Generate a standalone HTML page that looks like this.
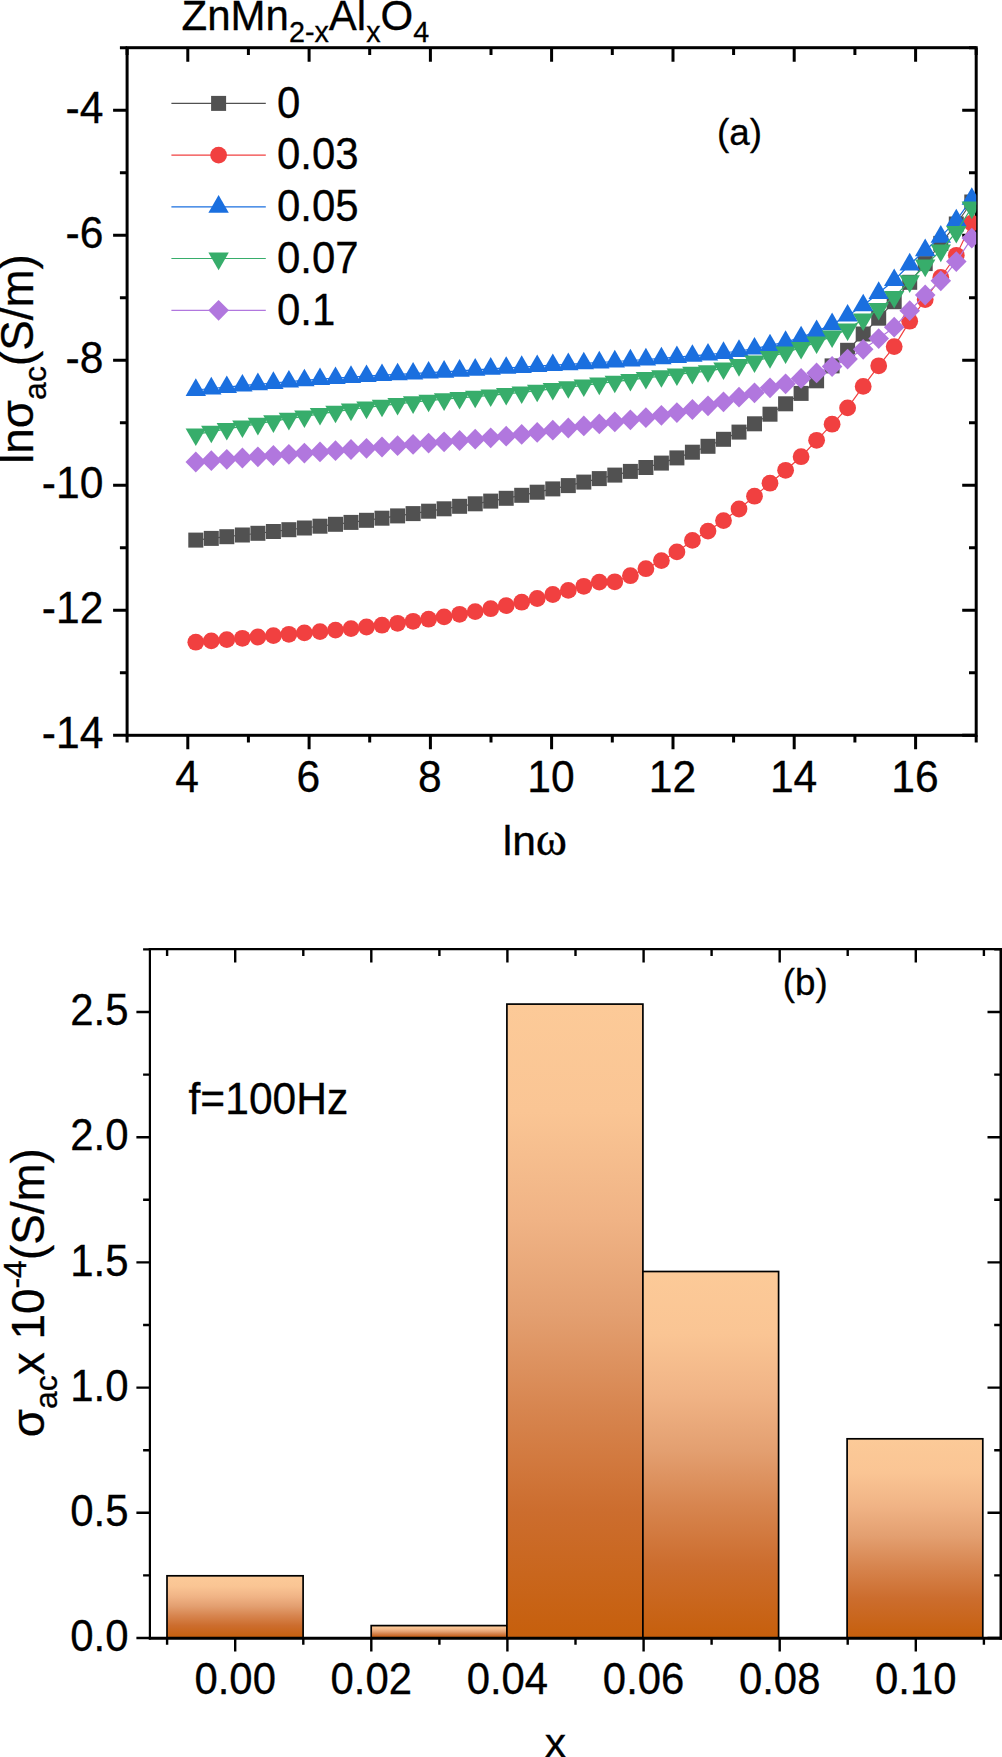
<!DOCTYPE html>
<html lang="en"><head><meta charset="utf-8"><title>AC conductivity of ZnMn2-xAlxO4</title>
<style>html,body{margin:0;padding:0;background:#fff}svg{display:block}text{font-family:"Liberation Sans",Arial,sans-serif;fill:#000;stroke:#000;stroke-width:0.3px}.sy{font-family:"Liberation Serif","DejaVu Serif",serif}</style></head><body>
<svg width="1002" height="1757" viewBox="0 0 1002 1757">
<rect width="1002" height="1757" fill="#fff"/>
<defs>
<clipPath id="ca"><rect x="127.1" y="47.7" width="849.1" height="687.6"/></clipPath>
<linearGradient id="bg" x1="0" y1="0" x2="0" y2="1"><stop offset="0" stop-color="#FCCA98"/><stop offset="0.17" stop-color="#FAC594"/><stop offset="0.34" stop-color="#F0B385"/><stop offset="0.49" stop-color="#E39F70"/><stop offset="0.64" stop-color="#D7854F"/><stop offset="0.80" stop-color="#CC6D2E"/><stop offset="1" stop-color="#C65F0C"/></linearGradient>
</defs>
<g id="plotA">
<g stroke="#000" stroke-width="3.0" fill="none" stroke-linecap="butt">
<rect x="127.1" y="47.7" width="849.1" height="687.6"/>
<path d="M127.1 735.3v7.2M127.1 47.7v7.2M187.8 735.3v14.0M187.8 47.7v14.0M248.4 735.3v7.2M248.4 47.7v7.2M309.1 735.3v14.0M309.1 47.7v14.0M369.7 735.3v7.2M369.7 47.7v7.2M430.4 735.3v14.0M430.4 47.7v14.0M491.0 735.3v7.2M491.0 47.7v7.2M551.6 735.3v14.0M551.6 47.7v14.0M612.3 735.3v7.2M612.3 47.7v7.2M673.0 735.3v14.0M673.0 47.7v14.0M733.6 735.3v7.2M733.6 47.7v7.2M794.2 735.3v14.0M794.2 47.7v14.0M854.9 735.3v7.2M854.9 47.7v7.2M915.6 735.3v14.0M915.6 47.7v14.0M976.2 735.3v7.2M976.2 47.7v7.2M127.1 735.3h-14.0M976.2 735.3h-14.0M127.1 672.8h-7.2M976.2 672.8h-7.2M127.1 610.3h-14.0M976.2 610.3h-14.0M127.1 547.8h-7.2M976.2 547.8h-7.2M127.1 485.3h-14.0M976.2 485.3h-14.0M127.1 422.8h-7.2M976.2 422.8h-7.2M127.1 360.2h-14.0M976.2 360.2h-14.0M127.1 297.7h-7.2M976.2 297.7h-7.2M127.1 235.2h-14.0M976.2 235.2h-14.0M127.1 172.7h-7.2M976.2 172.7h-7.2M127.1 110.2h-14.0M976.2 110.2h-14.0M127.1 47.7h-7.2M976.2 47.7h-7.2"/>
</g>
<g clip-path="url(#ca)">
<polyline fill="none" stroke="#515151" stroke-width="1.2" points="195.8,540.1 211.3,538.4 226.8,536.7 242.4,535.0 257.9,533.3 273.4,531.5 288.9,529.7 304.4,528.0 320.0,526.2 335.5,524.3 351.0,522.4 366.5,520.3 382.0,518.2 397.6,515.9 413.1,513.6 428.6,511.2 444.1,508.8 459.6,506.3 475.2,503.8 490.7,501.1 506.2,498.3 521.7,495.3 537.2,492.2 552.8,488.9 568.3,485.6 583.8,482.1 599.3,478.6 614.8,475.1 630.4,471.4 645.9,467.5 661.4,463.1 676.9,457.9 692.4,452.2 708.0,446.3 723.5,439.3 739.0,432.1 754.5,423.8 770.0,414.2 785.6,403.8 801.1,393.4 816.6,380.8 832.1,365.9 847.6,350.3 863.2,334.0 878.7,318.2 894.2,301.7 909.7,282.3 925.2,263.6 940.8,243.4 956.3,224.0 971.8,202.0"/>
<g><rect x="188.3" y="532.6" width="15.0" height="15.0" fill="#515151"/><rect x="203.8" y="530.9" width="15.0" height="15.0" fill="#515151"/><rect x="219.3" y="529.2" width="15.0" height="15.0" fill="#515151"/><rect x="234.9" y="527.5" width="15.0" height="15.0" fill="#515151"/><rect x="250.4" y="525.8" width="15.0" height="15.0" fill="#515151"/><rect x="265.9" y="524.0" width="15.0" height="15.0" fill="#515151"/><rect x="281.4" y="522.2" width="15.0" height="15.0" fill="#515151"/><rect x="296.9" y="520.5" width="15.0" height="15.0" fill="#515151"/><rect x="312.5" y="518.7" width="15.0" height="15.0" fill="#515151"/><rect x="328.0" y="516.8" width="15.0" height="15.0" fill="#515151"/><rect x="343.5" y="514.9" width="15.0" height="15.0" fill="#515151"/><rect x="359.0" y="512.8" width="15.0" height="15.0" fill="#515151"/><rect x="374.5" y="510.7" width="15.0" height="15.0" fill="#515151"/><rect x="390.1" y="508.4" width="15.0" height="15.0" fill="#515151"/><rect x="405.6" y="506.1" width="15.0" height="15.0" fill="#515151"/><rect x="421.1" y="503.7" width="15.0" height="15.0" fill="#515151"/><rect x="436.6" y="501.3" width="15.0" height="15.0" fill="#515151"/><rect x="452.1" y="498.8" width="15.0" height="15.0" fill="#515151"/><rect x="467.7" y="496.3" width="15.0" height="15.0" fill="#515151"/><rect x="483.2" y="493.6" width="15.0" height="15.0" fill="#515151"/><rect x="498.7" y="490.8" width="15.0" height="15.0" fill="#515151"/><rect x="514.2" y="487.8" width="15.0" height="15.0" fill="#515151"/><rect x="529.7" y="484.7" width="15.0" height="15.0" fill="#515151"/><rect x="545.3" y="481.4" width="15.0" height="15.0" fill="#515151"/><rect x="560.8" y="478.1" width="15.0" height="15.0" fill="#515151"/><rect x="576.3" y="474.6" width="15.0" height="15.0" fill="#515151"/><rect x="591.8" y="471.1" width="15.0" height="15.0" fill="#515151"/><rect x="607.3" y="467.6" width="15.0" height="15.0" fill="#515151"/><rect x="622.9" y="463.9" width="15.0" height="15.0" fill="#515151"/><rect x="638.4" y="460.0" width="15.0" height="15.0" fill="#515151"/><rect x="653.9" y="455.6" width="15.0" height="15.0" fill="#515151"/><rect x="669.4" y="450.4" width="15.0" height="15.0" fill="#515151"/><rect x="684.9" y="444.7" width="15.0" height="15.0" fill="#515151"/><rect x="700.5" y="438.8" width="15.0" height="15.0" fill="#515151"/><rect x="716.0" y="431.8" width="15.0" height="15.0" fill="#515151"/><rect x="731.5" y="424.6" width="15.0" height="15.0" fill="#515151"/><rect x="747.0" y="416.3" width="15.0" height="15.0" fill="#515151"/><rect x="762.5" y="406.7" width="15.0" height="15.0" fill="#515151"/><rect x="778.1" y="396.3" width="15.0" height="15.0" fill="#515151"/><rect x="793.6" y="385.9" width="15.0" height="15.0" fill="#515151"/><rect x="809.1" y="373.3" width="15.0" height="15.0" fill="#515151"/><rect x="824.6" y="358.4" width="15.0" height="15.0" fill="#515151"/><rect x="840.1" y="342.8" width="15.0" height="15.0" fill="#515151"/><rect x="855.7" y="326.5" width="15.0" height="15.0" fill="#515151"/><rect x="871.2" y="310.7" width="15.0" height="15.0" fill="#515151"/><rect x="886.7" y="294.2" width="15.0" height="15.0" fill="#515151"/><rect x="902.2" y="274.8" width="15.0" height="15.0" fill="#515151"/><rect x="917.7" y="256.1" width="15.0" height="15.0" fill="#515151"/><rect x="933.3" y="235.9" width="15.0" height="15.0" fill="#515151"/><rect x="948.8" y="216.5" width="15.0" height="15.0" fill="#515151"/><rect x="964.3" y="194.5" width="15.0" height="15.0" fill="#515151"/></g>
<polyline fill="none" stroke="#F14040" stroke-width="1.2" points="195.8,642.2 211.3,640.9 226.8,639.6 242.4,638.3 257.9,637.0 273.4,635.6 288.9,634.3 304.4,632.9 320.0,631.6 335.5,630.1 351.0,628.6 366.5,627.0 382.0,625.2 397.6,623.3 413.1,621.3 428.6,619.2 444.1,616.9 459.6,614.3 475.2,611.6 490.7,608.7 506.2,605.6 521.7,602.2 537.2,598.5 552.8,594.5 568.3,590.4 583.8,586.3 599.3,582.1 614.8,581.8 630.4,575.7 645.9,568.7 661.4,560.6 676.9,551.9 692.4,540.4 708.0,531.1 723.5,520.6 739.0,509.0 754.5,496.2 770.0,483.2 785.6,470.3 801.1,456.7 816.6,440.3 832.1,424.2 847.6,407.9 863.2,386.4 878.7,365.8 894.2,346.6 909.7,321.2 925.2,299.5 940.8,277.5 956.3,255.3 971.8,223.1"/>
<g><circle cx="195.8" cy="642.2" r="8.4" fill="#F14040"/><circle cx="211.3" cy="640.9" r="8.4" fill="#F14040"/><circle cx="226.8" cy="639.6" r="8.4" fill="#F14040"/><circle cx="242.4" cy="638.3" r="8.4" fill="#F14040"/><circle cx="257.9" cy="637.0" r="8.4" fill="#F14040"/><circle cx="273.4" cy="635.6" r="8.4" fill="#F14040"/><circle cx="288.9" cy="634.3" r="8.4" fill="#F14040"/><circle cx="304.4" cy="632.9" r="8.4" fill="#F14040"/><circle cx="320.0" cy="631.6" r="8.4" fill="#F14040"/><circle cx="335.5" cy="630.1" r="8.4" fill="#F14040"/><circle cx="351.0" cy="628.6" r="8.4" fill="#F14040"/><circle cx="366.5" cy="627.0" r="8.4" fill="#F14040"/><circle cx="382.0" cy="625.2" r="8.4" fill="#F14040"/><circle cx="397.6" cy="623.3" r="8.4" fill="#F14040"/><circle cx="413.1" cy="621.3" r="8.4" fill="#F14040"/><circle cx="428.6" cy="619.2" r="8.4" fill="#F14040"/><circle cx="444.1" cy="616.9" r="8.4" fill="#F14040"/><circle cx="459.6" cy="614.3" r="8.4" fill="#F14040"/><circle cx="475.2" cy="611.6" r="8.4" fill="#F14040"/><circle cx="490.7" cy="608.7" r="8.4" fill="#F14040"/><circle cx="506.2" cy="605.6" r="8.4" fill="#F14040"/><circle cx="521.7" cy="602.2" r="8.4" fill="#F14040"/><circle cx="537.2" cy="598.5" r="8.4" fill="#F14040"/><circle cx="552.8" cy="594.5" r="8.4" fill="#F14040"/><circle cx="568.3" cy="590.4" r="8.4" fill="#F14040"/><circle cx="583.8" cy="586.3" r="8.4" fill="#F14040"/><circle cx="599.3" cy="582.1" r="8.4" fill="#F14040"/><circle cx="614.8" cy="581.8" r="8.4" fill="#F14040"/><circle cx="630.4" cy="575.7" r="8.4" fill="#F14040"/><circle cx="645.9" cy="568.7" r="8.4" fill="#F14040"/><circle cx="661.4" cy="560.6" r="8.4" fill="#F14040"/><circle cx="676.9" cy="551.9" r="8.4" fill="#F14040"/><circle cx="692.4" cy="540.4" r="8.4" fill="#F14040"/><circle cx="708.0" cy="531.1" r="8.4" fill="#F14040"/><circle cx="723.5" cy="520.6" r="8.4" fill="#F14040"/><circle cx="739.0" cy="509.0" r="8.4" fill="#F14040"/><circle cx="754.5" cy="496.2" r="8.4" fill="#F14040"/><circle cx="770.0" cy="483.2" r="8.4" fill="#F14040"/><circle cx="785.6" cy="470.3" r="8.4" fill="#F14040"/><circle cx="801.1" cy="456.7" r="8.4" fill="#F14040"/><circle cx="816.6" cy="440.3" r="8.4" fill="#F14040"/><circle cx="832.1" cy="424.2" r="8.4" fill="#F14040"/><circle cx="847.6" cy="407.9" r="8.4" fill="#F14040"/><circle cx="863.2" cy="386.4" r="8.4" fill="#F14040"/><circle cx="878.7" cy="365.8" r="8.4" fill="#F14040"/><circle cx="894.2" cy="346.6" r="8.4" fill="#F14040"/><circle cx="909.7" cy="321.2" r="8.4" fill="#F14040"/><circle cx="925.2" cy="299.5" r="8.4" fill="#F14040"/><circle cx="940.8" cy="277.5" r="8.4" fill="#F14040"/><circle cx="956.3" cy="255.3" r="8.4" fill="#F14040"/><circle cx="971.8" cy="223.1" r="8.4" fill="#F14040"/></g>
<polyline fill="none" stroke="#1A6FDF" stroke-width="1.2" points="195.8,390.0 211.3,388.5 226.8,387.1 242.4,385.7 257.9,384.3 273.4,383.0 288.9,381.7 304.4,380.4 320.0,379.2 335.5,378.1 351.0,377.0 366.5,376.1 382.0,375.2 397.6,374.4 413.1,373.6 428.6,372.7 444.1,371.8 459.6,370.8 475.2,369.8 490.7,368.8 506.2,367.9 521.7,367.0 537.2,366.1 552.8,365.2 568.3,364.3 583.8,363.4 599.3,362.5 614.8,361.5 630.4,360.5 645.9,359.5 661.4,358.4 676.9,357.2 692.4,355.9 708.0,354.6 723.5,353.0 739.0,351.0 754.5,348.6 770.0,345.4 785.6,342.0 801.1,337.4 816.6,331.2 832.1,324.3 847.6,315.7 863.2,305.4 878.7,293.0 894.2,280.2 909.7,264.5 925.2,250.3 940.8,236.8 956.3,220.4 971.8,198.9"/>
<g><path d="M185.6 395.9L206.0 395.9L195.8 378.3Z" fill="#1A6FDF"/><path d="M201.1 394.4L221.5 394.4L211.3 376.8Z" fill="#1A6FDF"/><path d="M216.6 393.0L237.0 393.0L226.8 375.4Z" fill="#1A6FDF"/><path d="M232.2 391.6L252.6 391.6L242.4 374.0Z" fill="#1A6FDF"/><path d="M247.7 390.2L268.1 390.2L257.9 372.6Z" fill="#1A6FDF"/><path d="M263.2 388.9L283.6 388.9L273.4 371.3Z" fill="#1A6FDF"/><path d="M278.7 387.6L299.1 387.6L288.9 370.0Z" fill="#1A6FDF"/><path d="M294.2 386.3L314.6 386.3L304.4 368.7Z" fill="#1A6FDF"/><path d="M309.8 385.1L330.2 385.1L320.0 367.5Z" fill="#1A6FDF"/><path d="M325.3 384.0L345.7 384.0L335.5 366.4Z" fill="#1A6FDF"/><path d="M340.8 382.9L361.2 382.9L351.0 365.3Z" fill="#1A6FDF"/><path d="M356.3 382.0L376.7 382.0L366.5 364.4Z" fill="#1A6FDF"/><path d="M371.8 381.1L392.2 381.1L382.0 363.5Z" fill="#1A6FDF"/><path d="M387.4 380.3L407.8 380.3L397.6 362.7Z" fill="#1A6FDF"/><path d="M402.9 379.5L423.3 379.5L413.1 361.9Z" fill="#1A6FDF"/><path d="M418.4 378.6L438.8 378.6L428.6 361.0Z" fill="#1A6FDF"/><path d="M433.9 377.7L454.3 377.7L444.1 360.1Z" fill="#1A6FDF"/><path d="M449.4 376.7L469.8 376.7L459.6 359.1Z" fill="#1A6FDF"/><path d="M465.0 375.7L485.4 375.7L475.2 358.1Z" fill="#1A6FDF"/><path d="M480.5 374.7L500.9 374.7L490.7 357.1Z" fill="#1A6FDF"/><path d="M496.0 373.8L516.4 373.8L506.2 356.2Z" fill="#1A6FDF"/><path d="M511.5 372.9L531.9 372.9L521.7 355.3Z" fill="#1A6FDF"/><path d="M527.0 372.0L547.4 372.0L537.2 354.4Z" fill="#1A6FDF"/><path d="M542.6 371.1L563.0 371.1L552.8 353.5Z" fill="#1A6FDF"/><path d="M558.1 370.2L578.5 370.2L568.3 352.6Z" fill="#1A6FDF"/><path d="M573.6 369.3L594.0 369.3L583.8 351.7Z" fill="#1A6FDF"/><path d="M589.1 368.4L609.5 368.4L599.3 350.8Z" fill="#1A6FDF"/><path d="M604.6 367.4L625.0 367.4L614.8 349.8Z" fill="#1A6FDF"/><path d="M620.2 366.4L640.6 366.4L630.4 348.8Z" fill="#1A6FDF"/><path d="M635.7 365.4L656.1 365.4L645.9 347.8Z" fill="#1A6FDF"/><path d="M651.2 364.3L671.6 364.3L661.4 346.7Z" fill="#1A6FDF"/><path d="M666.7 363.1L687.1 363.1L676.9 345.5Z" fill="#1A6FDF"/><path d="M682.2 361.8L702.6 361.8L692.4 344.2Z" fill="#1A6FDF"/><path d="M697.8 360.5L718.2 360.5L708.0 342.9Z" fill="#1A6FDF"/><path d="M713.3 358.9L733.7 358.9L723.5 341.3Z" fill="#1A6FDF"/><path d="M728.8 356.9L749.2 356.9L739.0 339.3Z" fill="#1A6FDF"/><path d="M744.3 354.5L764.7 354.5L754.5 336.9Z" fill="#1A6FDF"/><path d="M759.8 351.3L780.2 351.3L770.0 333.7Z" fill="#1A6FDF"/><path d="M775.4 347.9L795.8 347.9L785.6 330.3Z" fill="#1A6FDF"/><path d="M790.9 343.3L811.3 343.3L801.1 325.7Z" fill="#1A6FDF"/><path d="M806.4 337.1L826.8 337.1L816.6 319.5Z" fill="#1A6FDF"/><path d="M821.9 330.2L842.3 330.2L832.1 312.6Z" fill="#1A6FDF"/><path d="M837.4 321.6L857.8 321.6L847.6 304.0Z" fill="#1A6FDF"/><path d="M853.0 311.3L873.4 311.3L863.2 293.7Z" fill="#1A6FDF"/><path d="M868.5 298.9L888.9 298.9L878.7 281.3Z" fill="#1A6FDF"/><path d="M884.0 286.1L904.4 286.1L894.2 268.5Z" fill="#1A6FDF"/><path d="M899.5 270.4L919.9 270.4L909.7 252.8Z" fill="#1A6FDF"/><path d="M915.0 256.2L935.4 256.2L925.2 238.6Z" fill="#1A6FDF"/><path d="M930.6 242.7L951.0 242.7L940.8 225.1Z" fill="#1A6FDF"/><path d="M946.1 226.3L966.5 226.3L956.3 208.7Z" fill="#1A6FDF"/><path d="M961.6 204.8L982.0 204.8L971.8 187.2Z" fill="#1A6FDF"/></g>
<polyline fill="none" stroke="#37AD6B" stroke-width="1.2" points="195.8,434.3 211.3,431.6 226.8,428.9 242.4,426.3 257.9,423.7 273.4,421.2 288.9,418.7 304.4,416.3 320.0,413.9 335.5,411.6 351.0,409.5 366.5,407.5 382.0,405.6 397.6,403.9 413.1,402.2 428.6,400.6 444.1,399.2 459.6,397.9 475.2,396.6 490.7,395.3 506.2,393.9 521.7,392.3 537.2,390.6 552.8,388.9 568.3,387.1 583.8,385.3 599.3,383.5 614.8,381.6 630.4,379.8 645.9,377.9 661.4,376.1 676.9,374.4 692.4,372.7 708.0,371.1 723.5,368.4 739.0,365.0 754.5,361.4 770.0,357.0 785.6,352.4 801.1,347.8 816.6,342.4 832.1,336.4 847.6,329.3 863.2,319.3 878.7,308.9 894.2,296.9 909.7,281.2 925.2,265.5 940.8,250.5 956.3,231.8 971.8,207.5"/>
<g><path d="M185.6 428.4L206.0 428.4L195.8 446.0Z" fill="#37AD6B"/><path d="M201.1 425.7L221.5 425.7L211.3 443.3Z" fill="#37AD6B"/><path d="M216.6 423.0L237.0 423.0L226.8 440.6Z" fill="#37AD6B"/><path d="M232.2 420.4L252.6 420.4L242.4 438.0Z" fill="#37AD6B"/><path d="M247.7 417.8L268.1 417.8L257.9 435.4Z" fill="#37AD6B"/><path d="M263.2 415.3L283.6 415.3L273.4 432.9Z" fill="#37AD6B"/><path d="M278.7 412.8L299.1 412.8L288.9 430.4Z" fill="#37AD6B"/><path d="M294.2 410.4L314.6 410.4L304.4 428.0Z" fill="#37AD6B"/><path d="M309.8 408.0L330.2 408.0L320.0 425.6Z" fill="#37AD6B"/><path d="M325.3 405.7L345.7 405.7L335.5 423.3Z" fill="#37AD6B"/><path d="M340.8 403.6L361.2 403.6L351.0 421.2Z" fill="#37AD6B"/><path d="M356.3 401.6L376.7 401.6L366.5 419.2Z" fill="#37AD6B"/><path d="M371.8 399.7L392.2 399.7L382.0 417.3Z" fill="#37AD6B"/><path d="M387.4 398.0L407.8 398.0L397.6 415.6Z" fill="#37AD6B"/><path d="M402.9 396.3L423.3 396.3L413.1 413.9Z" fill="#37AD6B"/><path d="M418.4 394.7L438.8 394.7L428.6 412.3Z" fill="#37AD6B"/><path d="M433.9 393.3L454.3 393.3L444.1 410.9Z" fill="#37AD6B"/><path d="M449.4 392.0L469.8 392.0L459.6 409.6Z" fill="#37AD6B"/><path d="M465.0 390.7L485.4 390.7L475.2 408.3Z" fill="#37AD6B"/><path d="M480.5 389.4L500.9 389.4L490.7 407.0Z" fill="#37AD6B"/><path d="M496.0 388.0L516.4 388.0L506.2 405.6Z" fill="#37AD6B"/><path d="M511.5 386.4L531.9 386.4L521.7 404.0Z" fill="#37AD6B"/><path d="M527.0 384.7L547.4 384.7L537.2 402.3Z" fill="#37AD6B"/><path d="M542.6 383.0L563.0 383.0L552.8 400.6Z" fill="#37AD6B"/><path d="M558.1 381.2L578.5 381.2L568.3 398.8Z" fill="#37AD6B"/><path d="M573.6 379.4L594.0 379.4L583.8 397.0Z" fill="#37AD6B"/><path d="M589.1 377.6L609.5 377.6L599.3 395.2Z" fill="#37AD6B"/><path d="M604.6 375.7L625.0 375.7L614.8 393.3Z" fill="#37AD6B"/><path d="M620.2 373.9L640.6 373.9L630.4 391.5Z" fill="#37AD6B"/><path d="M635.7 372.0L656.1 372.0L645.9 389.6Z" fill="#37AD6B"/><path d="M651.2 370.2L671.6 370.2L661.4 387.8Z" fill="#37AD6B"/><path d="M666.7 368.5L687.1 368.5L676.9 386.1Z" fill="#37AD6B"/><path d="M682.2 366.8L702.6 366.8L692.4 384.4Z" fill="#37AD6B"/><path d="M697.8 365.2L718.2 365.2L708.0 382.8Z" fill="#37AD6B"/><path d="M713.3 362.5L733.7 362.5L723.5 380.1Z" fill="#37AD6B"/><path d="M728.8 359.1L749.2 359.1L739.0 376.7Z" fill="#37AD6B"/><path d="M744.3 355.5L764.7 355.5L754.5 373.1Z" fill="#37AD6B"/><path d="M759.8 351.1L780.2 351.1L770.0 368.7Z" fill="#37AD6B"/><path d="M775.4 346.5L795.8 346.5L785.6 364.1Z" fill="#37AD6B"/><path d="M790.9 341.9L811.3 341.9L801.1 359.5Z" fill="#37AD6B"/><path d="M806.4 336.5L826.8 336.5L816.6 354.1Z" fill="#37AD6B"/><path d="M821.9 330.5L842.3 330.5L832.1 348.1Z" fill="#37AD6B"/><path d="M837.4 323.4L857.8 323.4L847.6 341.0Z" fill="#37AD6B"/><path d="M853.0 313.4L873.4 313.4L863.2 331.0Z" fill="#37AD6B"/><path d="M868.5 303.0L888.9 303.0L878.7 320.6Z" fill="#37AD6B"/><path d="M884.0 291.0L904.4 291.0L894.2 308.6Z" fill="#37AD6B"/><path d="M899.5 275.3L919.9 275.3L909.7 292.9Z" fill="#37AD6B"/><path d="M915.0 259.6L935.4 259.6L925.2 277.2Z" fill="#37AD6B"/><path d="M930.6 244.6L951.0 244.6L940.8 262.2Z" fill="#37AD6B"/><path d="M946.1 225.9L966.5 225.9L956.3 243.5Z" fill="#37AD6B"/><path d="M961.6 201.6L982.0 201.6L971.8 219.2Z" fill="#37AD6B"/></g>
<polyline fill="none" stroke="#B177DE" stroke-width="1.2" points="195.8,462.0 211.3,460.7 226.8,459.3 242.4,458.0 257.9,456.8 273.4,455.5 288.9,454.3 304.4,453.1 320.0,451.9 335.5,450.7 351.0,449.5 366.5,448.3 382.0,447.0 397.6,445.7 413.1,444.4 428.6,443.1 444.1,441.8 459.6,440.5 475.2,439.2 490.7,437.8 506.2,436.2 521.7,434.4 537.2,432.4 552.8,430.2 568.3,428.0 583.8,425.9 599.3,423.9 614.8,421.9 630.4,419.8 645.9,417.7 661.4,415.3 676.9,412.6 692.4,409.5 708.0,405.8 723.5,401.8 739.0,397.2 754.5,392.8 770.0,387.8 785.6,383.8 801.1,378.4 816.6,372.9 832.1,366.5 847.6,359.1 863.2,349.3 878.7,338.6 894.2,327.2 909.7,310.7 925.2,295.0 940.8,280.8 956.3,261.6 971.8,238.1"/>
<g><path d="M185.5 462.0L195.8 451.6L206.1 462.0L195.8 472.4Z" fill="#B177DE"/><path d="M201.0 460.7L211.3 450.3L221.6 460.7L211.3 471.1Z" fill="#B177DE"/><path d="M216.5 459.3L226.8 448.9L237.1 459.3L226.8 469.7Z" fill="#B177DE"/><path d="M232.1 458.0L242.4 447.6L252.7 458.0L242.4 468.4Z" fill="#B177DE"/><path d="M247.6 456.8L257.9 446.4L268.2 456.8L257.9 467.2Z" fill="#B177DE"/><path d="M263.1 455.5L273.4 445.1L283.7 455.5L273.4 465.9Z" fill="#B177DE"/><path d="M278.6 454.3L288.9 443.9L299.2 454.3L288.9 464.7Z" fill="#B177DE"/><path d="M294.1 453.1L304.4 442.7L314.7 453.1L304.4 463.5Z" fill="#B177DE"/><path d="M309.7 451.9L320.0 441.5L330.3 451.9L320.0 462.3Z" fill="#B177DE"/><path d="M325.2 450.7L335.5 440.3L345.8 450.7L335.5 461.1Z" fill="#B177DE"/><path d="M340.7 449.5L351.0 439.1L361.3 449.5L351.0 459.9Z" fill="#B177DE"/><path d="M356.2 448.3L366.5 437.9L376.8 448.3L366.5 458.7Z" fill="#B177DE"/><path d="M371.7 447.0L382.0 436.6L392.3 447.0L382.0 457.4Z" fill="#B177DE"/><path d="M387.3 445.7L397.6 435.3L407.9 445.7L397.6 456.1Z" fill="#B177DE"/><path d="M402.8 444.4L413.1 434.0L423.4 444.4L413.1 454.8Z" fill="#B177DE"/><path d="M418.3 443.1L428.6 432.7L438.9 443.1L428.6 453.5Z" fill="#B177DE"/><path d="M433.8 441.8L444.1 431.4L454.4 441.8L444.1 452.2Z" fill="#B177DE"/><path d="M449.3 440.5L459.6 430.1L469.9 440.5L459.6 450.9Z" fill="#B177DE"/><path d="M464.9 439.2L475.2 428.8L485.5 439.2L475.2 449.6Z" fill="#B177DE"/><path d="M480.4 437.8L490.7 427.4L501.0 437.8L490.7 448.2Z" fill="#B177DE"/><path d="M495.9 436.2L506.2 425.8L516.5 436.2L506.2 446.6Z" fill="#B177DE"/><path d="M511.4 434.4L521.7 424.0L532.0 434.4L521.7 444.8Z" fill="#B177DE"/><path d="M526.9 432.4L537.2 422.0L547.5 432.4L537.2 442.8Z" fill="#B177DE"/><path d="M542.5 430.2L552.8 419.8L563.1 430.2L552.8 440.6Z" fill="#B177DE"/><path d="M558.0 428.0L568.3 417.6L578.6 428.0L568.3 438.4Z" fill="#B177DE"/><path d="M573.5 425.9L583.8 415.5L594.1 425.9L583.8 436.3Z" fill="#B177DE"/><path d="M589.0 423.9L599.3 413.5L609.6 423.9L599.3 434.3Z" fill="#B177DE"/><path d="M604.5 421.9L614.8 411.5L625.1 421.9L614.8 432.3Z" fill="#B177DE"/><path d="M620.1 419.8L630.4 409.4L640.7 419.8L630.4 430.2Z" fill="#B177DE"/><path d="M635.6 417.7L645.9 407.3L656.2 417.7L645.9 428.1Z" fill="#B177DE"/><path d="M651.1 415.3L661.4 404.9L671.7 415.3L661.4 425.7Z" fill="#B177DE"/><path d="M666.6 412.6L676.9 402.2L687.2 412.6L676.9 423.0Z" fill="#B177DE"/><path d="M682.1 409.5L692.4 399.1L702.7 409.5L692.4 419.9Z" fill="#B177DE"/><path d="M697.7 405.8L708.0 395.4L718.3 405.8L708.0 416.2Z" fill="#B177DE"/><path d="M713.2 401.8L723.5 391.4L733.8 401.8L723.5 412.2Z" fill="#B177DE"/><path d="M728.7 397.2L739.0 386.8L749.3 397.2L739.0 407.6Z" fill="#B177DE"/><path d="M744.2 392.8L754.5 382.4L764.8 392.8L754.5 403.2Z" fill="#B177DE"/><path d="M759.7 387.8L770.0 377.4L780.3 387.8L770.0 398.2Z" fill="#B177DE"/><path d="M775.3 383.8L785.6 373.4L795.9 383.8L785.6 394.2Z" fill="#B177DE"/><path d="M790.8 378.4L801.1 368.0L811.4 378.4L801.1 388.8Z" fill="#B177DE"/><path d="M806.3 372.9L816.6 362.5L826.9 372.9L816.6 383.3Z" fill="#B177DE"/><path d="M821.8 366.5L832.1 356.1L842.4 366.5L832.1 376.9Z" fill="#B177DE"/><path d="M837.3 359.1L847.6 348.7L857.9 359.1L847.6 369.5Z" fill="#B177DE"/><path d="M852.9 349.3L863.2 338.9L873.5 349.3L863.2 359.7Z" fill="#B177DE"/><path d="M868.4 338.6L878.7 328.2L889.0 338.6L878.7 349.0Z" fill="#B177DE"/><path d="M883.9 327.2L894.2 316.8L904.5 327.2L894.2 337.6Z" fill="#B177DE"/><path d="M899.4 310.7L909.7 300.3L920.0 310.7L909.7 321.1Z" fill="#B177DE"/><path d="M914.9 295.0L925.2 284.6L935.5 295.0L925.2 305.4Z" fill="#B177DE"/><path d="M930.5 280.8L940.8 270.4L951.1 280.8L940.8 291.2Z" fill="#B177DE"/><path d="M946.0 261.6L956.3 251.2L966.6 261.6L956.3 272.0Z" fill="#B177DE"/><path d="M961.5 238.1L971.8 227.7L982.1 238.1L971.8 248.5Z" fill="#B177DE"/></g>
</g>
<g font-size="42.6">
<text transform="translate(187.2 791.7) scale(1 1.037)" font-size="42.6" text-anchor="middle">4</text>
<text transform="translate(308.4 791.7) scale(1 1.037)" font-size="42.6" text-anchor="middle">6</text>
<text transform="translate(429.8 791.7) scale(1 1.037)" font-size="42.6" text-anchor="middle">8</text>
<text transform="translate(551.0 791.7) scale(1 1.037)" font-size="42.6" text-anchor="middle">10</text>
<text transform="translate(672.4 791.7) scale(1 1.037)" font-size="42.6" text-anchor="middle">12</text>
<text transform="translate(793.6 791.7) scale(1 1.037)" font-size="42.6" text-anchor="middle">14</text>
<text transform="translate(915.0 791.7) scale(1 1.037)" font-size="42.6" text-anchor="middle">16</text>
<text transform="translate(103.4 747.9) scale(1 1.037)" font-size="42.6" text-anchor="end">-14</text>
<text transform="translate(103.4 622.9) scale(1 1.037)" font-size="42.6" text-anchor="end">-12</text>
<text transform="translate(103.4 497.9) scale(1 1.037)" font-size="42.6" text-anchor="end">-10</text>
<text transform="translate(103.4 372.8) scale(1 1.037)" font-size="42.6" text-anchor="end">-8</text>
<text transform="translate(103.4 247.8) scale(1 1.037)" font-size="42.6" text-anchor="end">-6</text>
<text transform="translate(103.4 122.8) scale(1 1.037)" font-size="42.6" text-anchor="end">-4</text>
</g>
<line x1="171.4" y1="103.4" x2="265.8" y2="103.4" stroke="#515151" stroke-width="1.2"/>
<rect x="211.1" y="95.9" width="15.0" height="15.0" fill="#515151"/>
<text transform="translate(276.9 117.7) scale(0.985 1.037)" font-size="42.6">0</text>
<line x1="171.4" y1="155.1" x2="265.8" y2="155.1" stroke="#F14040" stroke-width="1.2"/>
<circle cx="218.6" cy="155.1" r="8.4" fill="#F14040"/>
<text transform="translate(276.9 169.4) scale(0.985 1.037)" font-size="42.6">0.03</text>
<line x1="171.4" y1="206.8" x2="265.8" y2="206.8" stroke="#1A6FDF" stroke-width="1.2"/>
<path d="M208.4 212.7L228.8 212.7L218.6 195.1Z" fill="#1A6FDF"/>
<text transform="translate(276.9 221.1) scale(0.985 1.037)" font-size="42.6">0.05</text>
<line x1="171.4" y1="258.5" x2="265.8" y2="258.5" stroke="#37AD6B" stroke-width="1.2"/>
<path d="M208.4 252.6L228.8 252.6L218.6 270.2Z" fill="#37AD6B"/>
<text transform="translate(276.9 272.8) scale(0.985 1.037)" font-size="42.6">0.07</text>
<line x1="171.4" y1="310.3" x2="265.8" y2="310.3" stroke="#B177DE" stroke-width="1.2"/>
<path d="M208.3 310.3L218.6 299.9L228.9 310.3L218.6 320.7Z" fill="#B177DE"/>
<text transform="translate(276.9 324.6) scale(0.985 1.037)" font-size="42.6">0.1</text>
<text transform="translate(181.6 30.3) scale(1 1.03)" font-size="42.0">ZnMn<tspan font-size="28.7" dy="11.2">2-x</tspan><tspan dy="-11.2">Al</tspan><tspan font-size="28.7" dy="11.2">x</tspan><tspan dy="-11.2">O</tspan><tspan font-size="28.7" dy="11.2">4</tspan></text>
<text x="739.6" y="145.1" font-size="36.8" text-anchor="middle">(a)</text>
<text transform="translate(502.7 854.7) scale(1 0.975)" font-size="42.6">ln<tspan class="sy" font-size="47.5">ω</tspan></text>
<text transform="translate(33.2 463.8) rotate(-90) scale(1 1.0)" font-size="45.8">lnσ<tspan font-size="32" dy="12.5">ac</tspan><tspan dy="-12.5">(S/m)</tspan></text>
</g>
<g id="plotB">
<rect x="167.0" y="1575.8" width="136.1" height="62.2" fill="url(#bg)" stroke="#000" stroke-width="1.7"/>
<rect x="371.2" y="1625.6" width="135.8" height="12.4" fill="url(#bg)" stroke="#000" stroke-width="1.7"/>
<rect x="506.9" y="1004.1" width="136.0" height="633.9" fill="url(#bg)" stroke="#000" stroke-width="1.7"/>
<rect x="642.9" y="1271.5" width="135.7" height="366.5" fill="url(#bg)" stroke="#000" stroke-width="1.7"/>
<rect x="847.1" y="1438.8" width="135.7" height="199.2" fill="url(#bg)" stroke="#000" stroke-width="1.7"/>
<g stroke="#000" stroke-width="2.4" fill="none">
<path d="M149.9 947.9V1639.5" stroke-width="2.2"/><path d="M148.8 949.1H1002.5" stroke-width="2.4"/><path d="M148.8 1638.3H1002.5" stroke-width="3"/><path d="M1001.0 947.9V1639.8" stroke-width="3"/>
<path d="M167.1 1638.0v6.8M167.1 949.1v6.8M235.2 1638.0v13.5M235.2 949.1v13.5M303.3 1638.0v6.8M303.3 949.1v6.8M371.3 1638.0v13.5M371.3 949.1v13.5M439.4 1638.0v6.8M439.4 949.1v6.8M507.4 1638.0v13.5M507.4 949.1v13.5M575.5 1638.0v6.8M575.5 949.1v6.8M643.6 1638.0v13.5M643.6 949.1v13.5M711.6 1638.0v6.8M711.6 949.1v6.8M779.7 1638.0v13.5M779.7 949.1v13.5M847.7 1638.0v6.8M847.7 949.1v6.8M915.8 1638.0v13.5M915.8 949.1v13.5M983.9 1638.0v6.8M983.9 949.1v6.8M149.9 1638.0h-13.5M1001.0 1638.0h-13.5M149.9 1575.4h-6.8M1001.0 1575.4h-6.8M149.9 1512.8h-13.5M1001.0 1512.8h-13.5M149.9 1450.2h-6.8M1001.0 1450.2h-6.8M149.9 1387.6h-13.5M1001.0 1387.6h-13.5M149.9 1325.0h-6.8M1001.0 1325.0h-6.8M149.9 1262.4h-13.5M1001.0 1262.4h-13.5M149.9 1199.8h-6.8M1001.0 1199.8h-6.8M149.9 1137.2h-13.5M1001.0 1137.2h-13.5M149.9 1074.6h-6.8M1001.0 1074.6h-6.8M149.9 1012.0h-13.5M1001.0 1012.0h-13.5M149.9 949.4h-6.8M1001.0 949.4h-6.8"/>
</g>
<g font-size="42.6">
<text transform="translate(235.2 1694.3) scale(0.983 1.037)" font-size="42.6" text-anchor="middle">0.00</text>
<text transform="translate(371.3 1694.3) scale(0.983 1.037)" font-size="42.6" text-anchor="middle">0.02</text>
<text transform="translate(507.4 1694.3) scale(0.983 1.037)" font-size="42.6" text-anchor="middle">0.04</text>
<text transform="translate(643.6 1694.3) scale(0.983 1.037)" font-size="42.6" text-anchor="middle">0.06</text>
<text transform="translate(779.7 1694.3) scale(0.983 1.037)" font-size="42.6" text-anchor="middle">0.08</text>
<text transform="translate(915.8 1694.3) scale(0.983 1.037)" font-size="42.6" text-anchor="middle">0.10</text>
<text transform="translate(128.6 1651.2) scale(0.985 1.037)" font-size="42.6" text-anchor="end">0.0</text>
<text transform="translate(128.6 1526.0) scale(0.985 1.037)" font-size="42.6" text-anchor="end">0.5</text>
<text transform="translate(128.6 1400.8) scale(0.985 1.037)" font-size="42.6" text-anchor="end">1.0</text>
<text transform="translate(128.6 1275.6) scale(0.985 1.037)" font-size="42.6" text-anchor="end">1.5</text>
<text transform="translate(128.6 1150.4) scale(0.985 1.037)" font-size="42.6" text-anchor="end">2.0</text>
<text transform="translate(128.6 1025.2) scale(0.985 1.037)" font-size="42.6" text-anchor="end">2.5</text>
<text transform="translate(188.5 1114.3) scale(1 1.037)" font-size="42.6">f=100Hz</text>
<text x="805.2" y="995.1" font-size="36.8" text-anchor="middle">(b)</text>
<text transform="translate(555.3 1756.7) scale(1 0.965)" font-size="42.6" text-anchor="middle">x</text>
</g>
<text transform="translate(43.8 1437.2) rotate(-90) scale(1 1.0)" font-size="45.8">σ<tspan font-size="32" dy="12.7">ac</tspan><tspan dy="-12.7">x 10</tspan><tspan font-size="32" dy="-18">-4</tspan><tspan dy="18">(S/m)</tspan></text>
</g>
</svg></body></html>
